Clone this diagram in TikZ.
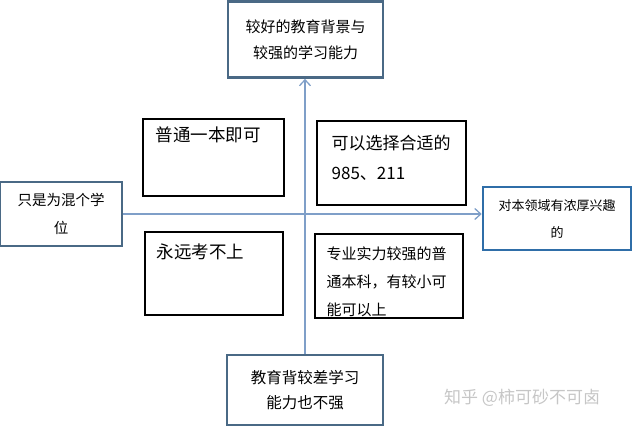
\documentclass[tikz,border=0pt]{standalone}
\usepackage{fontspec}
\newfontfamily\cjk{Noto Sans CJK SC}
\usetikzlibrary{arrows.meta}
\definecolor{axisblue}{HTML}{7F9FC8}
\definecolor{edgegray}{HTML}{4A6985}
\definecolor{edgeblue}{HTML}{2F6EA8}

\begin{document}
\begin{tikzpicture}[x=1pt,y=-1pt,
    bigbox/.style={draw=edgegray,line width=2.6pt,align=center,inner sep=0pt},
    quad/.style={draw=black,line width=1.1pt,inner sep=0pt},
    quadtext/.style={anchor=north west,align=left,inner sep=0pt},
    axis/.style={draw=axisblue,line width=1.3pt,-{Straight Barb[length=6pt,width=11pt]}}]
  \useasboundingbox (0,0) rectangle (632,426);
  % outer boxes
  \node[bigbox,minimum width=155,minimum height=76,font=\cjk\fontsize{15}{26}\selectfont] (top) at (305.5,39.5) {较好的教育背景与\\较强的学习能力};
  \node[bigbox,minimum width=156,minimum height=70,font=\cjk\fontsize{15.5}{25}\selectfont] (bottom) at (305,390) {教育背较差学习\\能力也不强};
  \node[bigbox,minimum width=122,minimum height=64,font=\cjk\fontsize{14.5}{28}\selectfont] (left) at (61,214) {只是为混个学\\位};
  \node[bigbox,draw=edgeblue,minimum width=148,minimum height=63,font=\cjk\fontsize{13}{27}\selectfont] (right) at (557,218.5) {对本领域有浓厚兴趣\\的};
  % axes
  \draw[axis] (bottom.north) -- (bottom.north |- top.south);
  \draw[axis] (left.east) -- (left.east -| right.west);
  % quadrants
  \node[quad,minimum width=141,minimum height=77] (tl) at (213.5,157.5) {};
  \node[quad,minimum width=149,minimum height=84] (tr) at (391.5,163) {};
  \node[quad,minimum width=138,minimum height=83] (bl) at (214,273.5) {};
  \node[quad,minimum width=148,minimum height=84] (br) at (389,276) {};
  \node[quadtext,font=\cjk\fontsize{17.5}{30}\selectfont] (tltext) at ([shift={(13,8.5)}]tl.north west) {普通一本即可};
  \node[quadtext,font=\cjk\fontsize{17}{30}\selectfont] (trtext) at ([shift={(15,14)}]tr.north west) {可以选择合适的\\985、211};
  \node[quadtext,font=\cjk\fontsize{17.5}{30}\selectfont] (bltext) at ([shift={(12,12.5)}]bl.north west) {永远考不上};
  \node[quadtext,font=\cjk\fontsize{15}{28}\selectfont] (brtext) at ([shift={(12,13.5)}]br.north west) {专业实力较强的普\\通本科，有较小可\\能可以上};
  % watermark
  \node[anchor=west,text=gray!45,inner sep=0pt,font=\cjk\fontsize{17}{20}\selectfont] (mark) at (444,398) {知乎 @柿可砂不可卤};
\end{tikzpicture}
\end{document}
